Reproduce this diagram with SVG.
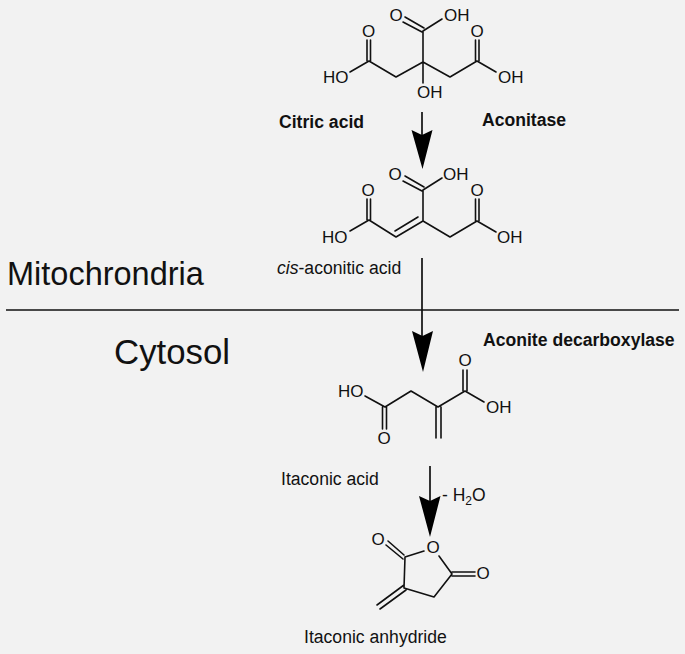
<svg xmlns="http://www.w3.org/2000/svg" width="685" height="654" viewBox="0 0 685 654">
<style>
text{font-family:"Liberation Sans",Arial,sans-serif;fill:#111}
.a{font-size:17px}
.m{text-anchor:middle}
.l{font-size:17.6px}
.b{font-size:17.6px;font-weight:bold}
.bond{fill:none;stroke:#111;stroke-width:1.6;stroke-linejoin:round;stroke-linecap:round}
.shaft{fill:none;stroke:#111;stroke-width:1.7}
.head{fill:#000}
</style>
<rect width="685" height="654" fill="#f2f2f2"/>
<g id="connectors">
<path class="shaft" d="M422 112V140"/><path class="head" d="M411.500 130L422 135L432.500 130L422.500 169Z"/>
<path class="shaft" d="M422 258V340"/><path class="head" d="M412 331L422.500 336L433 331L423 372Z"/>
<path class="shaft" d="M430 466V505"/><path class="head" d="M419 496L430 501L440.500 496L430 537Z"/>
<path class="shaft" d="M6 310H679"/>
</g>
<g id="citric-acid">
<path class="bond" d="M350 72L369 61L396 77L423 62L450 77L477 61L496 72M423 62V31L442 19M405 17L424 28M403 22L422 32M423 62V83M367 61V40M370.500 61V40M475.500 61V40M479 61V40"/>
<text class="a m" x="396" y="21">O</text><text class="a" x="444" y="21">OH</text>
<text class="a m" x="368.500" y="37">O</text><text class="a m" x="477" y="37">O</text>
<text class="a" x="323" y="83">HO</text><text class="a" x="498" y="83">OH</text>
<text class="a" x="417" y="98">OH</text>
<text class="b" x="279" y="128">Citric acid</text>
</g>
<g id="aconitase"><text class="b" x="482" y="126">Aconitase</text></g>
<g id="cis-aconitic-acid">
<path class="bond" d="M350 231L369 220L396 237L423 221L450 237L477 221L496 232M423 221V190L442 178M405 176L424 187M403 181L422 191M395 231L418 217M367 220V199M370.500 220V199M475.500 221V199M479 221V199"/>
<text class="a m" x="395" y="180">O</text><text class="a" x="443" y="180">OH</text>
<text class="a m" x="368" y="196">O</text><text class="a m" x="477" y="196">O</text>
<text class="a" x="322" y="243">HO</text><text class="a" x="497" y="243">OH</text>
<text class="l" x="277" y="274"><tspan font-style="italic">cis</tspan>-aconitic acid</text>
</g>
<g id="mitochondria-label"><text x="7" y="285" font-size="32.500">Mitochrondria</text></g>
<g id="cytosol-label"><text x="114" y="364" font-size="34.800">Cytosol</text></g>
<g id="aconite-decarboxylase"><text class="b" x="483" y="346">Aconite decarboxylase</text></g>
<g id="itaconic-acid">
<path class="bond" d="M365 396L385 407L411 391L438 407L465 391L484 402M382.500 407V429M386.500 407V429M436 407V438M441 407V438M463 391V370M467 391V370"/>
<text class="a" x="338" y="397">HO</text><text class="a" x="486" y="413">OH</text>
<text class="a m" x="465" y="366">O</text><text class="a m" x="384" y="444">O</text>
<text class="l" x="281" y="485">Itaconic acid</text>
</g>
<g id="h2o-label"><text font-size="17.500" x="442" y="501">- H<tspan font-size="12" dy="4">2</tspan><tspan dy="-4">O</tspan></text></g>
<g id="itaconic-anhydride">
<path class="bond" d="M424 551L405 557L404 588L434 597L452 574L439 556M388 541L404 555M386 545L403 559M452 572H475M452 576H475M404 585L377 605M406 590L380 609"/>
<text class="a m" x="433" y="553">O</text><text class="a m" x="378" y="545">O</text><text class="a m" x="483" y="579">O</text>
<text class="l" x="304" y="643">Itaconic anhydride</text>
</g>
</svg>
